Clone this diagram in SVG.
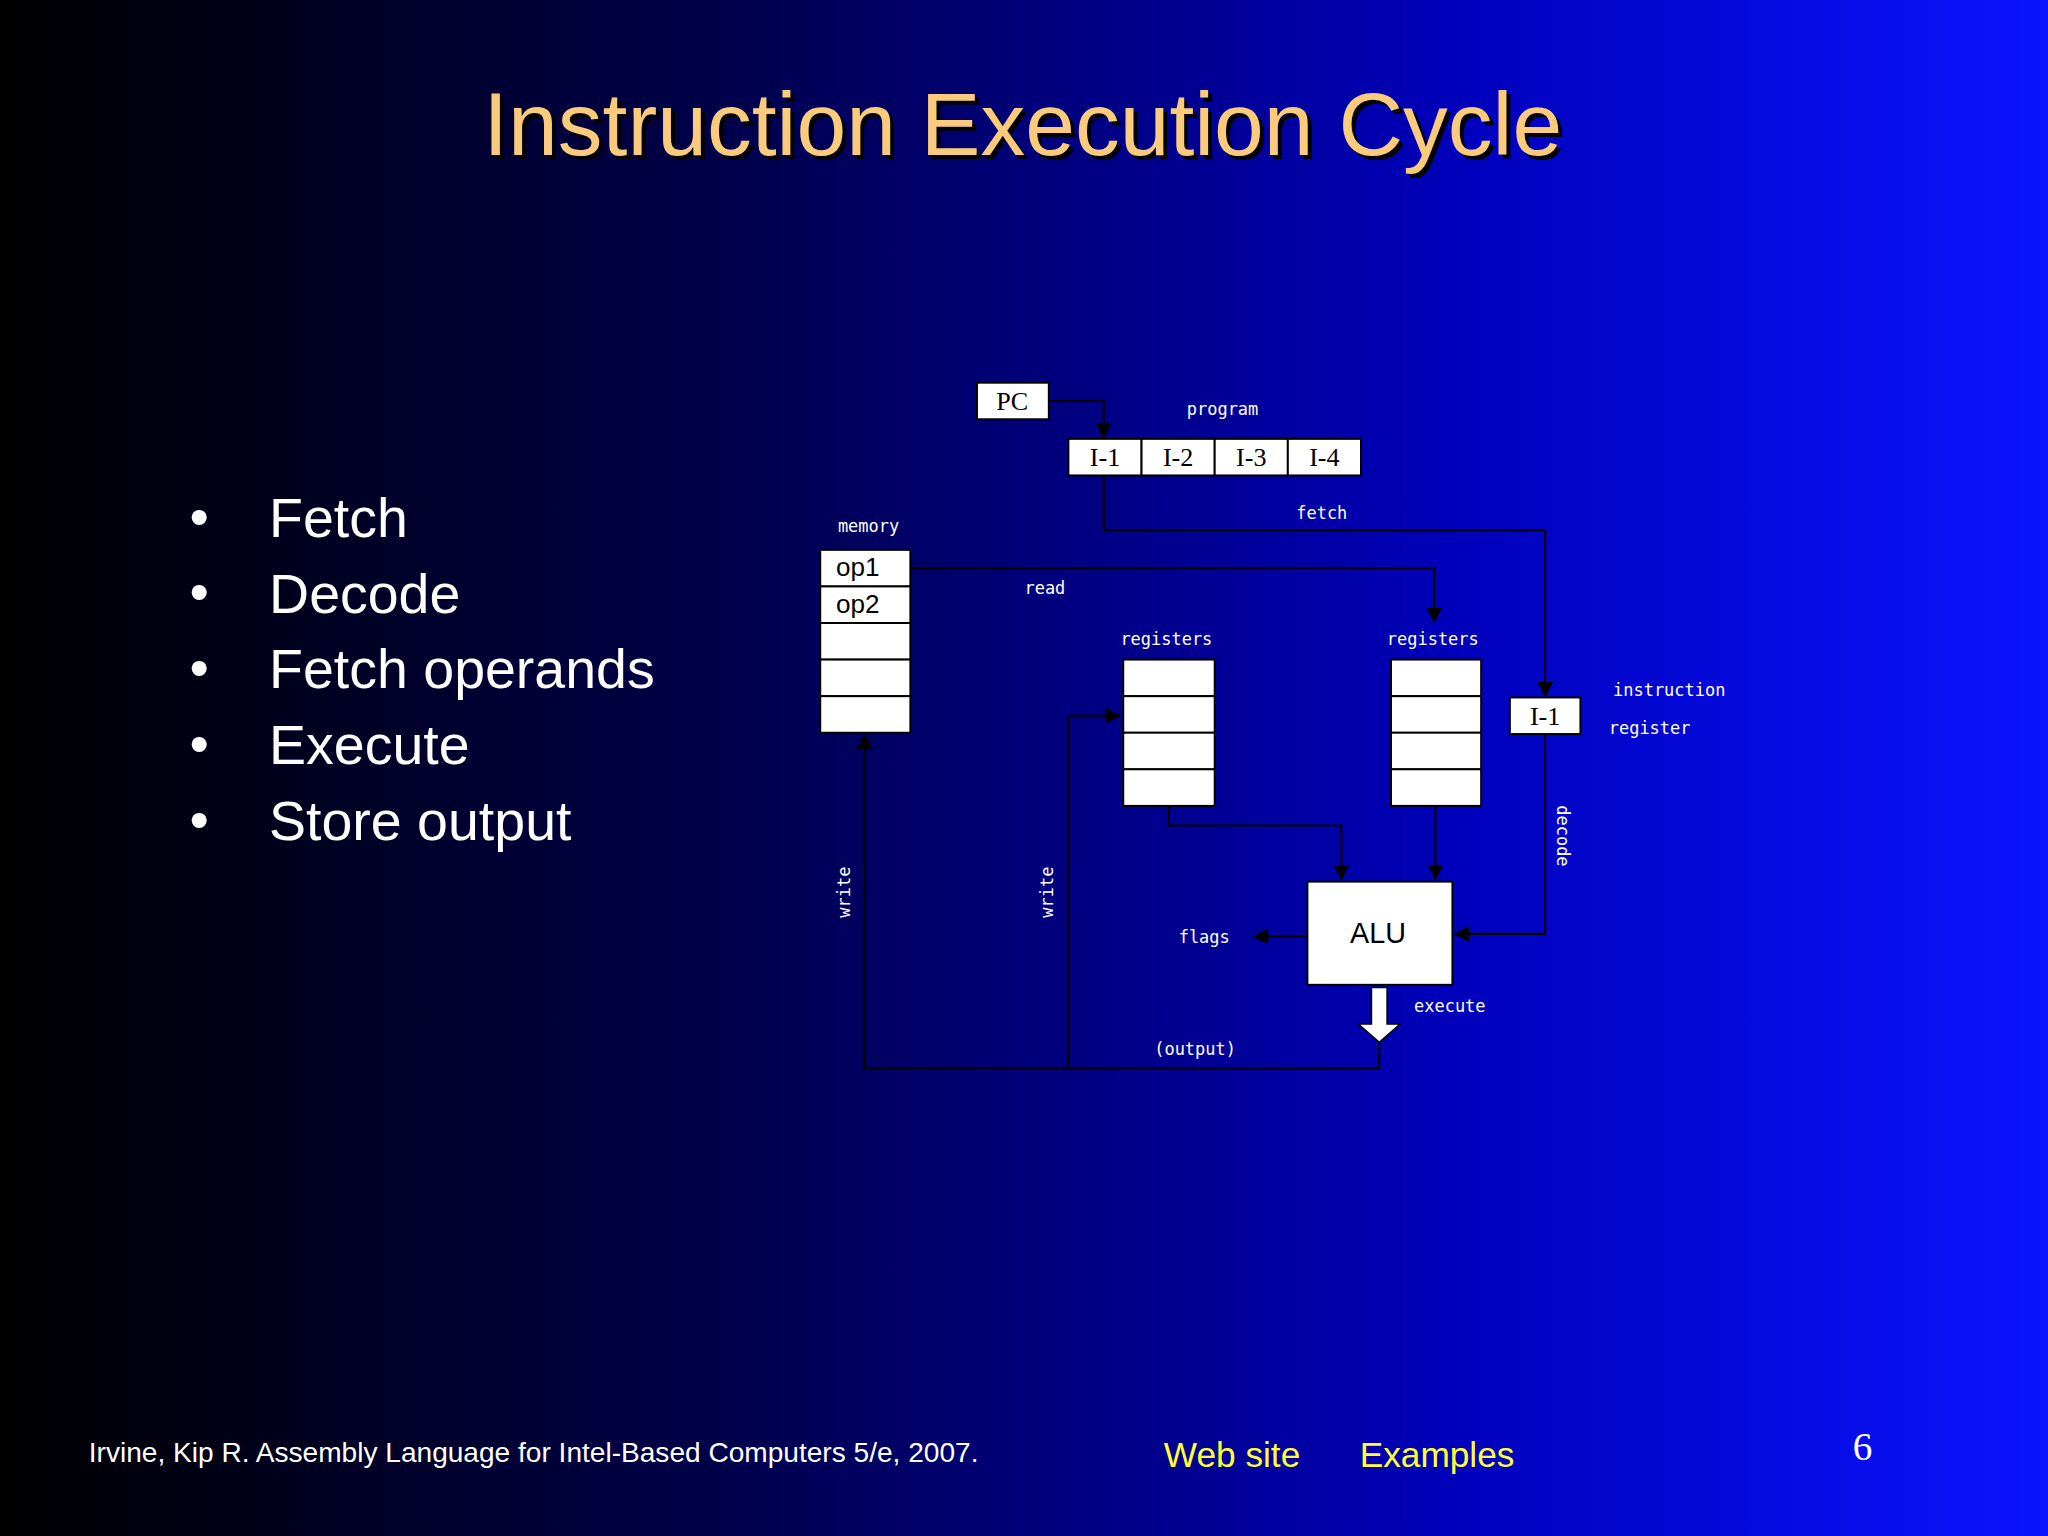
<svg xmlns="http://www.w3.org/2000/svg" width="2048" height="1536" viewBox="0 0 2048 1536">
<defs>
<linearGradient id="bg" x1="0" y1="0" x2="1" y2="0">
<stop offset="0" stop-color="#000000"/><stop offset="0.35" stop-color="#00004a"/><stop offset="0.7" stop-color="#0000b8"/><stop offset="1" stop-color="#0a14ff"/>
</linearGradient>
<marker id="ah" viewBox="0 0 10 10" refX="9" refY="5" markerWidth="12" markerHeight="12" orient="auto" markerUnits="userSpaceOnUse"><path d="M0,0 L10,5 L0,10 z" fill="#000"/></marker>
<style>
.bx{fill:#fff;stroke:#000;stroke-width:1.5}
.ln{fill:none;stroke:#000;stroke-width:1.6}
.bt{font-family:"Liberation Serif",serif;font-size:20px;fill:#000;text-anchor:middle}
.lb{font-family:"DejaVu Sans Mono",monospace;font-size:13px;fill:#fff;text-anchor:middle}
.bu{font-family:"Liberation Sans",Arial,sans-serif;font-size:42.5px;fill:#fff}
</style>
</defs>
<rect width="2048" height="1536" fill="url(#bg)"/>
<g transform="scale(1.30612)">
<g id="title" font-family="Liberation Sans,Arial,sans-serif" font-size="68.5" text-anchor="middle">
<text x="786" y="122" fill="#000">Instruction Execution Cycle</text>
<text x="783" y="119" fill="#fbcb7c">Instruction Execution Cycle</text>
</g>
<g id="bullets">
<text class="bu" x="145" y="410">•</text><text class="bu" x="206" y="411">Fetch</text>
<text class="bu" x="145" y="468">•</text><text class="bu" x="206" y="469">Decode</text>
<text class="bu" x="145" y="526">•</text><text class="bu" x="206" y="527">Fetch operands</text>
<text class="bu" x="145" y="584">•</text><text class="bu" x="206" y="585">Execute</text>
<text class="bu" x="145" y="642">•</text><text class="bu" x="206" y="643">Store output</text>
</g>
<g id="connectors">
<path class="ln" d="M803,307 H845 V335" marker-end="url(#ah)"/>
<path class="ln" d="M845,364 V406 H1183 V533" marker-end="url(#ah)"/>
<path class="ln" d="M697,435 H1098 V476" marker-end="url(#ah)"/>
<path class="ln" d="M895,617 V632 H1027 V673" marker-end="url(#ah)"/>
<path class="ln" d="M1099,617 V673" marker-end="url(#ah)"/>
<path class="ln" d="M1183,562 V715 H1114" marker-end="url(#ah)"/>
<path class="ln" d="M1001,717 H960" marker-end="url(#ah)"/>
<path class="ln" d="M1056,798 V818 H662 V563" marker-end="url(#ah)"/>
<path class="ln" d="M818,818 V548 H857" marker-end="url(#ah)"/>
<path d="M1050,756 H1062 V784 H1072 L1056,798 L1040,784 H1050 Z" fill="#fff" stroke="#000" stroke-width="1.2"/>
</g>
<g id="pc"><rect class="bx" x="748" y="293" width="55" height="28"/><text class="bt" x="775" y="314">PC</text></g>
<g id="program">
<rect class="bx" x="818" y="336" width="56" height="28"/><text class="bt" x="846" y="357">I-1</text>
<rect class="bx" x="874" y="336" width="56" height="28"/><text class="bt" x="902" y="357">I-2</text>
<rect class="bx" x="930" y="336" width="56" height="28"/><text class="bt" x="958" y="357">I-3</text>
<rect class="bx" x="986" y="336" width="56" height="28"/><text class="bt" x="1014" y="357">I-4</text>
<text class="lb" x="936" y="318">program</text>
</g>
<g id="memory">
<rect class="bx" x="628" y="421" width="69" height="28"/><rect class="bx" x="628" y="449" width="69" height="28"/>
<rect class="bx" x="628" y="477" width="69" height="28"/><rect class="bx" x="628" y="505" width="69" height="28"/>
<rect class="bx" x="628" y="533" width="69" height="28"/>
<text x="640" y="441" font-family="Liberation Sans,Arial,sans-serif" font-size="20">op1</text>
<text x="640" y="469" font-family="Liberation Sans,Arial,sans-serif" font-size="20">op2</text>
<text class="lb" x="665" y="407">memory</text>
</g>
<g id="registers1">
<rect class="bx" x="860" y="505" width="70" height="28"/><rect class="bx" x="860" y="533" width="70" height="28"/>
<rect class="bx" x="860" y="561" width="70" height="28"/><rect class="bx" x="860" y="589" width="70" height="28"/>
<text class="lb" x="893" y="494">registers</text>
</g>
<g id="registers2">
<rect class="bx" x="1065" y="505" width="69" height="28"/><rect class="bx" x="1065" y="533" width="69" height="28"/>
<rect class="bx" x="1065" y="561" width="69" height="28"/><rect class="bx" x="1065" y="589" width="69" height="28"/>
<text class="lb" x="1097" y="494">registers</text>
</g>
<g id="ir">
<rect class="bx" x="1156" y="534" width="54" height="28"/><text class="bt" x="1183" y="555">I-1</text>
<text class="lb" x="1278" y="533">instruction</text><text class="lb" x="1263" y="562">register</text>
</g>
<g id="alu"><rect class="bx" x="1001" y="675" width="111" height="79"/>
<text x="1055" y="722" font-family="Liberation Sans,Arial,sans-serif" font-size="22" text-anchor="middle">ALU</text></g>
<g id="labels">
<text class="lb" x="1012" y="397">fetch</text>
<text class="lb" x="800" y="455">read</text>
<text class="lb" x="922" y="722">flags</text>
<text class="lb" x="1110" y="775">execute</text>
<text class="lb" x="915" y="808">(output)</text>
<text class="lb" transform="translate(1192,640) rotate(90)">decode</text>
<text class="lb" transform="translate(651,683) rotate(-90)">write</text>
<text class="lb" transform="translate(806,683) rotate(-90)">write</text>
</g>
<g id="footer">
<text x="68" y="1119" font-family="Liberation Sans,Arial,sans-serif" font-size="21.5" fill="#fff">Irvine, Kip R. Assembly Language for Intel-Based Computers 5/e, 2007.</text>
<text x="891" y="1123" font-family="Liberation Sans,Arial,sans-serif" font-size="27" fill="#ffff33">Web site</text>
<text x="1041" y="1123" font-family="Liberation Sans,Arial,sans-serif" font-size="27" fill="#ffff33">Examples</text>
<text x="1426" y="1118" font-family="Liberation Serif,serif" font-size="30" fill="#fff" text-anchor="middle">6</text>
</g>
</g>
</svg>
